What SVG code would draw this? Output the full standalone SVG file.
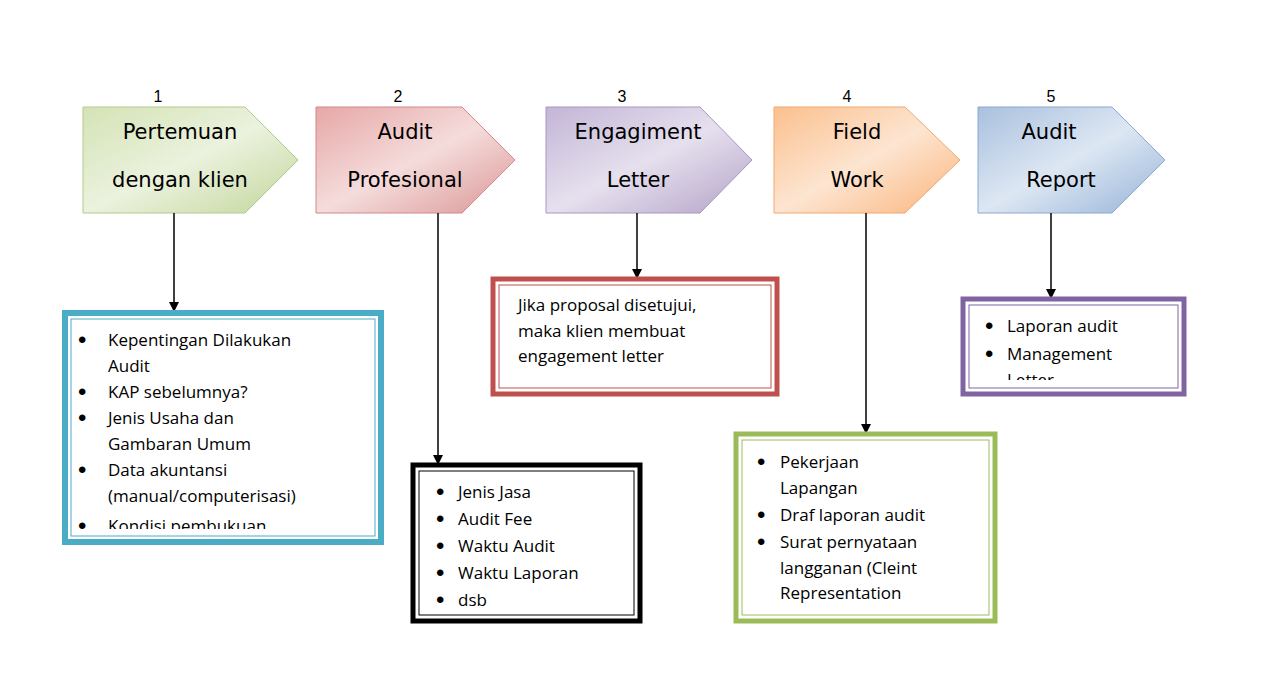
<svg xmlns="http://www.w3.org/2000/svg" width="1283" height="680" viewBox="0 0 1283 680">
<style>
.t{font-family:"DejaVu Sans",sans-serif;font-size:21px;fill:#000;text-anchor:middle}
.n{font-family:"Liberation Sans",sans-serif;font-size:16px;fill:#000;text-anchor:middle}
.b{font-family:"Open Sans","Liberation Sans",sans-serif;font-size:17px;fill:#000}
.d{font-family:"Liberation Sans",sans-serif;font-size:24px;fill:#000}
.c{stroke:#000;stroke-width:1.5;fill:none;marker-end:url(#a)}
</style>
<defs>
<marker id="a" markerWidth="10" markerHeight="10" refX="8" refY="5" orient="auto" markerUnits="userSpaceOnUse"><path d="M0,0 L10,5 L0,10 z" fill="#000"/></marker>
<linearGradient id="g1" x1="0" y1="0" x2="1" y2="1"><stop offset="0" stop-color="#d4e3b5"/><stop offset="0.5" stop-color="#ebf2de"/><stop offset="1" stop-color="#c3d69b"/></linearGradient>
<linearGradient id="g2" x1="0" y1="0" x2="1" y2="1"><stop offset="0" stop-color="#e6a7a6"/><stop offset="0.5" stop-color="#f5dcdc"/><stop offset="1" stop-color="#d99694"/></linearGradient>
<linearGradient id="g3" x1="0" y1="0" x2="1" y2="1"><stop offset="0" stop-color="#c3b5d6"/><stop offset="0.5" stop-color="#e6e0ee"/><stop offset="1" stop-color="#b3a2c7"/></linearGradient>
<linearGradient id="g4" x1="0" y1="0" x2="1" y2="1"><stop offset="0" stop-color="#fbc08e"/><stop offset="0.5" stop-color="#fde5d1"/><stop offset="1" stop-color="#fab37a"/></linearGradient>
<linearGradient id="g5" x1="0" y1="0" x2="1" y2="1"><stop offset="0" stop-color="#a9c0de"/><stop offset="0.5" stop-color="#dde7f3"/><stop offset="1" stop-color="#95b3d7"/></linearGradient>
<clipPath id="k1"><rect x="70" y="318" width="306" height="211"/></clipPath>
<clipPath id="k5"><rect x="969" y="305" width="209" height="75"/></clipPath>
</defs>
<g id="node1"><text class="n" x="158" y="102">1</text><path d="M83,107 H245 L298,160 L245,213 H83 z" fill="url(#g1)" stroke="#b5c98e"/><text class="t" x="180" y="139">Pertemuan</text><text class="t" x="180" y="187">dengan klien</text></g>
<g id="node2"><text class="n" x="398" y="102">2</text><path d="M316,107 H462 L515,160 L462,213 H316 z" fill="url(#g2)" stroke="#d08a88"/><text class="t" x="405" y="139">Audit</text><text class="t" x="405" y="187">Profesional</text></g>
<g id="node3"><text class="n" x="622" y="102">3</text><path d="M546,107 H700 L752,160 L700,213 H546 z" fill="url(#g3)" stroke="#a897c0"/><text class="t" x="638" y="139">Engagiment</text><text class="t" x="638" y="187">Letter</text></g>
<g id="node4"><text class="n" x="847" y="102">4</text><path d="M774,107 H905 L960,160 L905,213 H774 z" fill="url(#g4)" stroke="#f0a870"/><text class="t" x="857" y="139">Field</text><text class="t" x="857" y="187">Work</text></g>
<g id="node5"><text class="n" x="1051" y="102">5</text><path d="M978,107 H1112 L1165,160 L1112,213 H978 z" fill="url(#g5)" stroke="#8aa8cf"/><text class="t" x="1049" y="139">Audit</text><text class="t" x="1061" y="187">Report</text></g>
<g id="connectors">
<path class="c" d="M174,213 V310"/><path class="c" d="M438,213 V463"/><path class="c" d="M637,213 V277"/><path class="c" d="M866,213 V432"/><path class="c" d="M1051,213 V297"/>
</g>
<g id="box1"><rect x="65" y="313" width="316" height="229" fill="#fff" stroke="#4bacc6" stroke-width="6"/><rect x="71" y="319" width="304" height="217" fill="none" stroke="#4bacc6" stroke-width="1"/>
<g clip-path="url(#k1)"><g class="d"><text x="78" y="348">•</text><text x="78" y="400">•</text><text x="78" y="426">•</text><text x="78" y="478">•</text><text x="78" y="534">•</text></g><g class="b"><text x="108" y="346">Kepentingan  Dilakukan</text><text x="108" y="372">Audit</text><text x="108" y="398">KAP sebelumnya?</text><text x="108" y="424">Jenis Usaha  dan</text><text x="108" y="450">Gambaran  Umum</text><text x="108" y="476">Data akuntansi</text><text x="108" y="502">(manual/computerisasi)</text><text x="108" y="532">Kondisi  pembukuan</text></g></g></g>
<g id="box2"><rect x="413" y="465" width="227" height="156" fill="#fff" stroke="#000" stroke-width="5"/><rect x="419" y="471" width="215" height="144" fill="none" stroke="#000" stroke-width="1"/>
<g class="d"><text x="436" y="500">•</text><text x="436" y="527">•</text><text x="436" y="554">•</text><text x="436" y="581">•</text><text x="436" y="608">•</text></g>
<g class="b"><text x="458" y="498">Jenis Jasa</text><text x="458" y="525">Audit Fee</text><text x="458" y="552">Waktu Audit</text><text x="458" y="579">Waktu Laporan</text><text x="458" y="606">dsb</text></g></g>
<g id="box3"><rect x="493" y="279" width="284" height="115" fill="#fff" stroke="#c0504d" stroke-width="5"/><rect x="499" y="285" width="272" height="103" fill="none" stroke="#c0504d" stroke-width="1"/>
<g class="b"><text x="518" y="311">Jika proposal  disetujui,</text><text x="518" y="337">maka klien  membuat</text><text x="518" y="362">engagement letter</text></g></g>
<g id="box4"><rect x="736" y="434" width="259" height="187" fill="#fff" stroke="#9bbb59" stroke-width="5"/><rect x="742" y="440" width="247" height="175" fill="none" stroke="#9bbb59" stroke-width="1"/>
<g class="d"><text x="757" y="470">•</text><text x="757" y="523">•</text><text x="757" y="550">•</text></g>
<g class="b"><text x="780" y="468">Pekerjaan</text><text x="780" y="494">Lapangan</text><text x="780" y="521">Draf laporan  audit</text><text x="780" y="548">Surat pernyataan</text><text x="780" y="574">langganan (Cleint</text><text x="780" y="599">Representation</text></g></g>
<g id="box5"><rect x="963" y="299" width="221" height="95" fill="#fff" stroke="#8064a2" stroke-width="5"/><rect x="969" y="305" width="209" height="83" fill="none" stroke="#8064a2" stroke-width="1"/>
<g clip-path="url(#k5)"><g class="d"><text x="985" y="334">•</text><text x="985" y="362">•</text></g><g class="b"><text x="1007" y="332">Laporan audit</text><text x="1007" y="360">Management</text><text x="1007" y="386">Letter</text></g></g></g>
</svg>
